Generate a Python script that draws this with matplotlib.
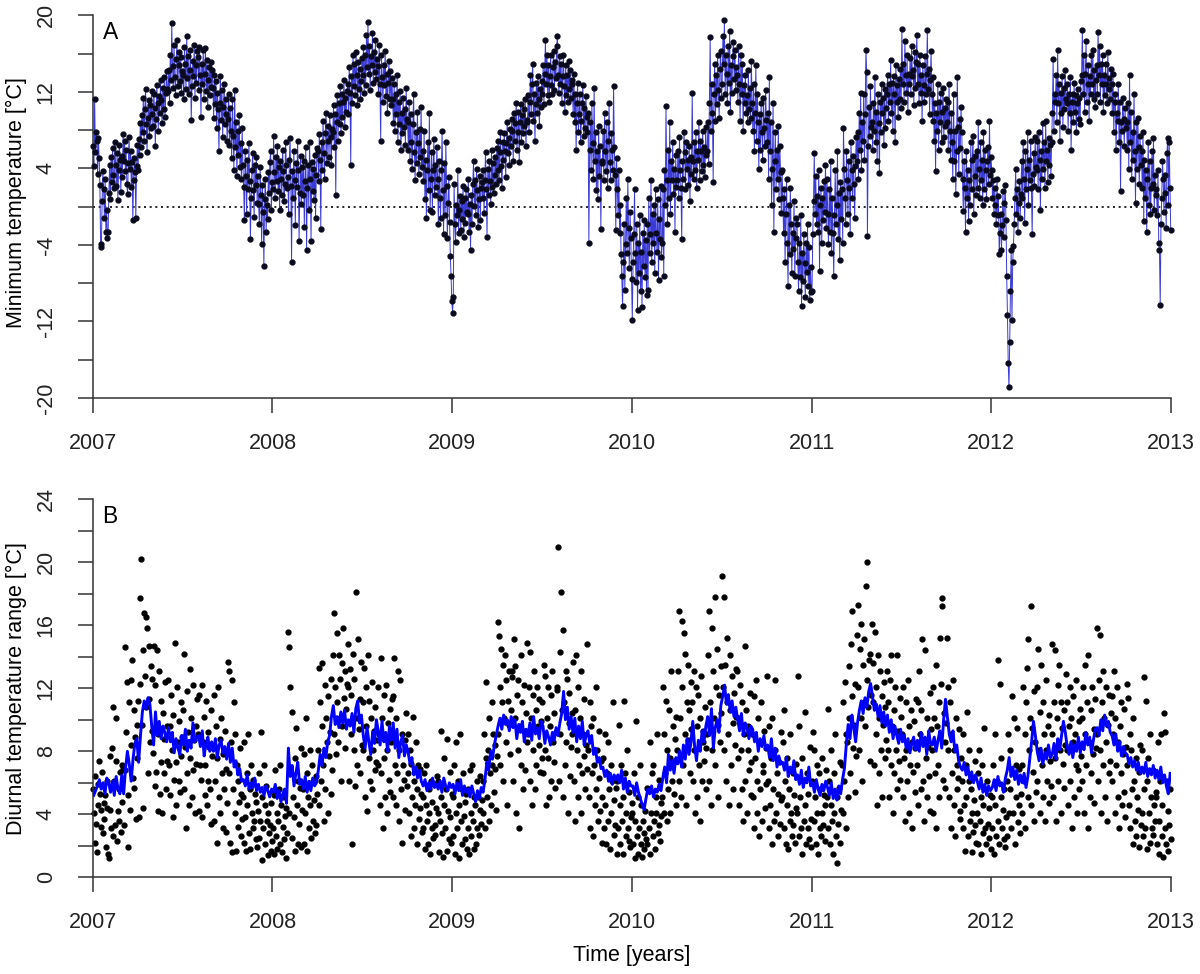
"""Daily minimum temperature and diurnal temperature range, 2007-2012."""
import numpy as np
import matplotlib.pyplot as plt

plt.rcParams['font.family'] = ['Liberation Sans', 'DejaVu Sans']

years = [2007, 2008, 2009, 2010, 2011, 2012]

# minimum temperature [°C], one line per month
tmin_2007 = """
6.3 4.2 11.3 5.7 7.8 6.9 3.4 7.2 5.1 2.3 -3.9 -4.2 0.6 3.7 1.8 -1.2 2.9 -2.6 -0.4 -3.3
-2.7 1.4 4.3 0.8 5.2 2.6 6.1 3.3 1.9 6.8 4.4 2.2 5.6 0.7 3.8 6.4 4.9 1.5 5.3 3.1
7.6 4.8 6.9 3.7 5.9 2.4 1.3 4.6 7.3 3.9 5.8 2.1 4.7 -1.4 2.8 5.1 3.6 -1.2 4.2 6.4
3.8 7.1 5.4 8.7 6.2 9.6 7.8 11.4 6.9 10.2 12.3 8.6 5.7 9.3 11.1 7.4 10.6 8.2 12.1 9.7
8.4 11.8 10.3 6.3 9.2 12.7 10.8 7.9 11.6 9.8 13.2 11.1 8.7 12.4 10.2 13.6 9.4 11.9 14.2 12.3
12.1 14.3 10.8 15.8 13.2 19.2 14.7 12.4 16.9 13.6 11.7 15.4 17.4 12.6 14.8 16.2 13.1 15.6 11.9 14.2
13.8 11.2 16.7 14.9 12.3 17.8 13.4 15.7 11.8 14.3 16.4 9.1 12.6 15.2 13.7 16.9 11.4 14.8 12.9 16.3
15.6 12.2 16.7 13.8 9.4 14.9 12.8 16.4 11.3 13.9 16.6 12.1 15.3 10.4 13.2 14.6 11.7 15.1 12.5 14.3
12.4 9.3 13.8 10.7 13.1 8.2 11.9 10.2 5.8 10.8 13.7 9.1 12.2 7.3 10.4 12.8 8.6 11.3 9.7 6.9
9.2 11.8 6.4 10.3 7.9 5.1 11.2 7.4 3.8 12.2 6.2 8.8 3.2 7.9 5.4 9.6 4.1 6.7 2.9 8.2
4.3 2.1 -1.4 5.8 3.2 -0.8 4.9 1.8 6.7 2.7 -3.4 0.9 3.8 5.6 1.7 -1.1 4.4 2.3 5.2 0.4
3.2 0.3 -1.8 4.1 1.2 -3.9 2.3 -0.6 -6.2 0.8 2.9 -2.7 0.2 -1.3 3.6 1.4 4.7 5.8 -0.4 2.6
"""
tmin_2008 = """
1.8 7.4 3.6 0.9 5.2 2.7 6.3 1.6 4.1 -0.3 4.8 2.9 1.2 5.9 3.7 0.6 2.4 6.8 4.3 1.9
3.1 -0.8 4.9 7.2 2.2 -5.8 3.7 0.9 5.8 2.8 -1.9 4.6 2.1 6.9 3.8 -3.6 1.4 5.3 0.3 4.1
1.2 4.8 -2.1 2.7 6.2 -4.5 1.9 4.3 -0.4 6.8 2.9 -3.6 4.7 1.6 3.9 0.7 5.4 -1.2 3.3 6.1
5.8 2.7 7.6 4.9 -2.3 6.8 3.8 8.9 5.6 2.9 7.7 9.8 4.6 6.9 8.4 5.2 9.6 7.3 4.4 8.1
7.8 10.6 6.2 9.7 1.2 8.8 11.7 6.9 10.8 8.6 12.6 7.7 11.8 9.4 10.9 13.2 8.3 11.4 9.9 12.1
12.8 9.7 14.6 11.9 4.4 13.7 10.8 15.8 12.6 14.9 11.7 16.2 13.8 10.6 15.1 12.3 14.4 11.2 13.1 15.5
13.8 16.7 11.9 15.8 12.7 17.9 14.6 19.3 13.9 16.8 12.2 15.7 14.8 18.1 12.9 16.2 14.1 17.4 13.3 15.4
14.7 11.8 16.9 12.8 6.9 15.8 13.6 10.9 14.8 12.7 16.3 11.6 13.9 9.8 12.9 15.2 11.3 14.2 10.6 13.4
11.2 8.7 12.8 7.9 11.8 9.7 13.8 6.8 10.9 8.6 12.1 5.9 9.8 7.7 11.4 8.3 10.2 6.4 12.4 9.2
8.8 5.9 10.9 4.8 9.7 6.8 3.9 8.6 11.8 5.7 2.8 7.8 4.6 9.9 6.7 3.4 8.1 5.2 10.4 4.1
5.8 2.7 7.9 0.8 4.9 -1.2 3.8 6.8 1.7 9.8 -0.3 2.9 5.7 -0.6 3.8 7.1 1.2 4.4 2.1 6.2
2.9 -1.8 4.8 0.9 -1.2 3.8 7.9 1.7 -2.9 4.6 -0.9 6.8 2.2 -3.3 0.4 3.1 -1.6 -5.2 -7.3 -9.9
"""
tmin_2009 = """
-11.1 -9.4 2.4 -1.8 -3.7 0.2 -0.9 3.8 -2.8 -0.4 1.1 -2.4 0.6 -1.3 2.2 -3.2 0.9 -1.7 1.8 -0.6
-0.8 2.9 -2.7 0.3 -4.5 1.2 -1.8 2.4 4.8 0.1 2.8 -0.9 3.9 1.7 -2.1 0.8 3.2 -1.4 1.9 2.6
0.9 3.8 -0.7 2.8 5.7 1.8 -3.2 3.9 1.2 4.8 2.7 0.3 5.9 2.1 4.6 1.4 3.3 5.2 2.4 6.1
3.8 6.9 2.8 5.7 7.8 4.2 1.9 6.8 4.9 7.7 5.8 3.1 6.6 8.8 5.6 7.2 4.4 8.1 6.3 9.2
7.9 4.8 9.8 6.9 8.7 10.8 5.9 7.8 9.9 4.7 8.8 10.7 6.8 9.6 7.7 10.2 8.4 11.2 6.3 9.1
8.8 11.7 7.8 10.9 13.8 9.7 12.8 14.9 8.9 11.8 6.9 10.7 12.9 9.8 13.7 11.2 8.4 12.3 10.4 13.1
11.8 14.8 10.7 13.9 17.4 12.8 15.9 11.7 14.8 10.9 13.7 15.8 12.7 11.8 14.6 16.3 12.2 15.1 13.4 16.8
17.8 13.8 11.9 15.7 12.8 14.9 10.8 13.7 15.8 12.6 9.9 14.8 11.7 13.8 10.9 15.2 12.3 14.3 11.4 13.2
12.8 9.7 13.9 8.8 11.8 5.9 10.8 12.9 7.8 9.7 11.8 6.8 8.9 10.8 12.7 7.4 10.3 8.2 11.6 9.4
7.8 9.8 -3.8 5.9 8.8 3.8 10.8 6.7 2.9 12.4 4.8 7.8 1.7 5.8 0.8 8.4 3.2 6.3 -2.3 4.6
4.8 7.9 2.8 9.8 5.8 3.7 8.8 1.9 6.9 10.8 4.7 2.8 7.7 5.9 3.8 12.6 6.2 3.3 -2.4 5.1
1.8 -0.9 3.8 -2.8 0.2 -4.9 -7.3 -10.4 -5.8 -1.8 -8.7 -3.9 0.9 -4.8 2.9 -2.2 -6.4 -0.6 -3.3 -7.6
"""
tmin_2010 = """
-11.8 -5.8 -2.9 1.8 -4.8 -7.9 -1.8 -10.8 -3.8 -6.9 -0.9 -8.8 -4.7 -10.5 -2.8 -6.2 -1.4 -7.4 -3.5 -9.2
-1.8 -8.7 0.9 -4.8 -2.9 2.8 -5.8 -0.8 -3.8 0.2 -6.9 1.8 -2.8 -4.7 0.8 -7.7 -1.3 -3.4 2.2 -5.3
-3.8 1.8 -7.3 3.8 0.2 10.5 2.8 -1.8 5.9 0.9 8.8 -0.8 4.8 2.8 6.8 1.3 3.9 -2.6 5.4 2.1
2.8 5.8 0.9 7.3 3.8 1.9 -3.4 4.8 2.9 7.8 5.7 1.8 6.8 3.9 4.9 2.3 6.3 0.6 5.2 3.4
11.9 4.8 2.9 6.8 3.8 7.8 1.9 5.8 4.9 8.8 2.8 6.9 5.8 3.7 7.9 4.3 6.2 3.1 8.3 5.4
5.8 8.8 4.5 10.8 17.7 7.9 12.8 9.8 2.6 11.8 14.9 8.9 13.8 10.7 15.8 12.2 9.3 14.4 16.3 11.4
12.8 17.8 14.9 19.5 11.8 15.8 13.9 10.8 16.8 12.9 18.4 9.9 14.8 11.9 15.7 17.2 13.3 16.4 12.2 14.6
13.8 10.9 16.8 12.8 8.9 15.8 11.8 14.9 7.9 12.7 10.8 13.8 9.8 11.7 8.8 14.3 10.2 12.4 9.3 15.2
10.8 7.9 12.8 5.8 9.8 14.8 6.9 11.8 8.8 3.9 9.7 5.9 10.8 7.8 4.9 11.4 8.2 6.3 12.2 9.1
6.8 9.8 2.9 13.6 5.8 8.8 0.2 3.9 10.8 -2.7 4.8 7.8 1.8 5.9 2.9 8.4 0.8 6.3 3.6 -0.7
3.8 0.9 -2.8 1.8 -5.8 -0.8 2.9 -3.8 -8.3 0.2 -4.9 1.9 -1.8 -6.9 -2.8 -4.4 0.6 -7.2 -3.3 -1.2
-1.8 -5.8 -8.8 -3.8 -7.4 -0.9 -10.4 -4.8 -7.8 -2.9 -5.9 -9.4 -3.8 -6.8 -1.8 -8.3 -4.2 -9.8 -6.3 -8.9
"""
tmin_2011 = """
-8.8 -2.9 0.6 5.6 -0.8 3.2 -1.8 1.1 -2.7 3.8 -6.7 0.2 1.9 -3.8 0.9 -1.4 2.7 -0.6 4.4 -2.2
2.9 -0.8 -3.9 1.8 -2.7 4.8 -4.8 0.9 -2.8 -7.2 -0.9 3.8 -1.8 0.2 5.8 -3.4 1.4 -5.6 2.6 -1.3
1.8 -3.8 8.2 3.9 0.9 -1.8 5.8 2.8 -0.8 4.8 1.9 -2.9 6.8 3.8 0.9 5.3 2.4 -1.2 4.2 7.3
4.8 7.8 2.9 9.8 5.9 11.9 3.8 8.8 6.9 11.8 4.9 9.7 16.4 14.1 -3.1 6.3 10.4 7.4 12.6 8.3
8.8 5.9 10.8 7.9 13.6 6.8 9.9 4.8 11.8 8.7 3.5 10.9 7.8 12.8 9.8 11.4 6.4 12.3 8.2 10.3
11.8 13.8 8.9 12.8 10.9 15.3 9.8 12.9 7.9 13.7 11.8 6.8 14.8 10.9 12.7 9.4 13.3 11.2 14.4 10.3
18.6 12.8 14.9 10.9 17.3 13.8 11.9 15.8 9.9 13.9 12.8 15.5 11.8 16.8 13.7 14.3 10.6 16.2 12.4 15.1
17.9 12.8 14.9 10.8 15.8 11.9 13.8 8.9 14.8 12.7 10.9 15.7 11.8 13.9 18.5 12.3 14.4 9.7 13.2 16.3
11.8 8.9 13.5 6.9 10.8 3.7 9.8 7.9 12.8 5.9 10.9 8.8 11.9 6.8 9.9 12.4 7.3 10.3 8.4 11.2
8.8 10.9 5.9 12.8 7.9 4.9 9.8 6.8 2.9 11.8 4.8 7.9 1.3 5.8 13.6 8.3 3.4 9.2 6.1 10.4
7.8 2.9 -0.5 4.8 1.9 -2.6 5.8 0.9 3.8 -1.5 2.8 0.2 6.8 1.8 4.9 7.4 -0.8 3.2 5.3 1.2
5.8 1.9 8.8 3.9 0.9 6.8 2.8 4.9 0.2 7.8 1.8 5.9 3.8 0.8 4.8 6.2 2.4 8.9 3.3 5.2
"""
tmin_2012 = """
3.8 0.9 2.8 -0.8 1.9 0.2 -1.8 2.9 -0.9 1.1 -4.9 -2.8 -0.8 -4.5 -1.9 1.6 -3.2 0.4 2.3 -1.4
-7.3 -11.3 -16.3 -18.9 -14.2 -8.8 -4.5 -11.8 -5.8 -4.1 -1.8 0.9 3.9 -0.8 1.8 -2.6 0.4 2.7 -1.2 1.3
4.8 0.9 6.8 2.9 -1.7 5.8 1.8 3.9 7.8 0.2 4.9 2.8 6.9 1.9 -2.9 3.4 5.6 2.2 7.3 4.1
3.8 6.9 1.8 7.8 4.9 -0.3 5.8 2.9 8.7 3.9 6.8 1.9 8.9 4.8 5.9 2.6 7.2 4.3 6.4 3.2
6.8 9.8 15.4 7.9 11.8 10.9 13.8 8.8 16.4 10.8 12.8 6.9 11.9 9.8 13.7 8.3 12.4 10.2 14.3 11.3
10.8 12.8 7.9 11.8 9.8 13.6 5.9 10.9 11.8 8.8 12.9 9.9 11.7 7.8 10.8 12.3 9.2 11.4 8.6 13.1
13.8 18.5 11.8 15.8 9.9 13.9 17.3 10.9 12.8 14.8 8.9 13.7 11.8 15.9 12.8 16.4 11.2 14.3 10.4 13.2
14.8 11.8 18.3 13.8 16.8 10.9 14.9 12.8 15.8 9.9 13.8 11.7 14.9 12.8 10.8 16.2 12.3 13.4 11.2 14.4
12.8 9.8 13.9 7.8 10.9 11.8 5.9 9.8 8.9 12.8 6.8 10.9 1.6 8.8 7.9 11.4 9.2 6.3 10.3 8.2
8.8 5.9 10.8 3.9 13.8 6.8 9.9 2.9 7.8 4.9 11.8 5.8 0.4 8.8 3.9 9.3 6.2 2.4 7.4 4.3
5.8 1.9 7.8 -1.5 4.9 0.9 3.8 -2.7 2.9 6.8 0.2 4.8 -0.8 1.9 5.8 2.4 7.2 -0.4 3.3 1.2
1.8 -0.9 3.8 -3.8 -4.5 -10.3 -1.8 0.9 4.8 2.9 -0.6 3.3 1.4 -2.2 5.6 7.2 0.2 6.8 1.9 -2.4
"""

# diurnal temperature range [°C], one line per month
dtr_2007 = """
5.6 4.1 6.4 2.2 3.4 1.6 4.6 5.9 7.4 5.3 3.2 4.3 6.7 2.8 4.7 3.7 5.2 1.9 6.1 4.4
1.5 1.2 4.3 7.7 3.1 8.2 10.8 2.6 6.1 3.3 7.4 10.1 2.3 4.2 5.6 3.6 6.7 2.9 4.8 7.1
6.9 3.3 6.8 14.6 9.2 12.4 1.9 5.2 11.1 4.3 12.5 8.4 13.8 6.3 10.6 5.7 8.9 3.7 7.6 9.7
11.2 3.8 17.7 12.3 20.2 9.7 14.4 4.4 16.8 12.8 16.5 10.8 15.8 6.6 11.3 14.7 8.6 13.4 9.3 12.6
7.9 14.7 5.8 12.2 6.7 14.4 9.1 4.2 13.1 5.3 11.2 7.3 4.1 10.4 6.6 8.8 12.4 5.6 9.6 7.4
12.5 7.1 9.6 5.2 11.6 8.1 3.8 10.3 6.2 14.9 7.3 4.6 12.1 8.6 6.1 9.9 5.4 11.1 7.7 8.9
10.6 5.6 14.2 8.3 3.1 11.8 6.6 9.2 4.6 13.2 7.6 10.1 5.1 12.2 6.8 8.7 4.1 9.6 7.2 11.3
9.1 4.2 11.6 7.1 6.2 12.2 3.8 8.6 10.2 5.2 7.1 11.2 4.6 9.2 6.1 8.3 5.6 10.6 3.4 7.7
8.2 3.6 11.6 6.1 9.6 2.2 7.6 12.1 5.1 8.8 4.1 10.1 6.6 3.1 7.8 5.6 9.3 2.9 6.9 4.7
13.7 6.6 13.1 2.2 8.6 12.5 1.6 5.6 11.1 4.1 9.1 1.7 7.1 3.2 6.1 4.8 8.2 2.6 5.3 3.7
5.1 2.2 8.6 3.8 1.7 6.6 4.6 9.1 2.8 5.6 1.8 7.1 4.1 3.1 6.2 3.6 5.3 2.4 4.8 1.9
4.2 6.6 2.5 3.6 9.2 5.1 1.1 3.1 7.1 4.6 2.1 5.8 3.6 1.4 4.1 2.8 3.3 1.7 4.7 2.3
"""
dtr_2008 = """
3.1 5.2 1.5 6.8 2.6 4.1 1.8 3.6 5.6 2.1 7.1 4.6 1.6 3.2 5.1 2.4 3.9 1.2 4.4 2.8
15.6 14.6 4.1 12.1 6.6 2.5 10.5 5.1 3.8 7.6 1.7 9.5 4.6 6.1 2.1 3.4 5.7 1.9 8.2 4.3
5.6 2.1 7.8 4.1 10.1 6.6 1.7 5.1 3.1 8.1 4.6 2.5 7.1 6.1 3.6 4.9 2.8 6.4 3.3 5.3
8.1 13.3 4.6 11.1 6.1 9.6 13.6 7.1 3.6 12.2 5.6 10.1 8.6 4.1 11.5 7.7 9.2 5.3 12.6 6.8
14.1 9.1 16.8 12.1 7.8 15.5 11.1 8.6 14.1 10.1 12.6 6.1 13.6 9.6 15.8 11.4 13.1 8.2 10.7 12.3
12.1 14.8 6.1 13.2 9.1 11.6 2.1 14.2 8.1 12.6 5.8 18.1 10.1 7.1 15.1 9.4 11.3 6.6 13.7 8.4
11.1 8.1 13.3 5.1 12.1 9.6 4.2 14.1 7.6 11.2 6.1 10.1 5.6 12.4 8.1 9.3 6.8 10.8 7.3 8.7
7.1 12.1 9.1 4.6 13.9 6.6 10.1 3.1 11.6 7.6 5.1 12.2 8.1 4.1 9.8 6.2 10.7 5.4 8.6 11.3
11.5 5.1 13.9 7.1 4.6 10.1 6.6 13.1 3.6 8.1 12.5 5.6 9.1 2.2 7.1 6.2 8.7 4.3 10.4 5.8
6.6 9.1 4.1 8.1 2.6 7.2 5.1 10.2 3.1 6.1 4.6 8.6 2.1 5.6 7.1 3.7 6.9 4.4 5.3 2.9
5.1 3.1 6.6 1.8 4.6 7.1 3.6 2.1 5.6 4.1 1.5 6.1 3.1 4.8 2.5 5.9 3.3 2.7 4.4 6.4
4.1 6.1 1.6 3.6 9.3 5.1 2.8 1.3 4.6 7.6 3.1 5.6 1.7 8.8 4.2 2.4 3.8 6.7 2.2 5.3
"""
dtr_2009 = """
5.1 2.6 7.1 1.5 4.1 8.6 3.1 6.1 1.2 4.6 9.1 3.6 5.6 2.1 6.6 3.9 4.8 2.4 5.3 1.8
3.1 5.6 1.5 6.8 4.1 2.6 7.1 3.6 1.8 5.1 4.6 2.1 6.1 3.1 5.1 2.7 4.3 6.4 3.4 4.9
6.1 4.1 9.1 3.1 7.6 12.4 5.1 8.1 3.6 10.1 6.6 4.6 11.1 7.1 9.1 5.4 8.4 6.9 4.3 7.7
16.2 9.1 15.3 12.1 7.1 14.5 11.1 6.1 13.5 10.1 14.1 8.6 12.5 4.6 11.2 9.7 13.1 7.8 10.6 12.7
13.1 6.1 15.1 10.1 13.4 4.1 11.6 8.1 12.5 3.1 9.6 14.1 7.1 11.1 5.6 9.3 12.2 6.8 10.4 8.6
14.9 9.1 12.1 6.1 14.3 10.1 4.6 11.6 8.1 13.1 5.6 10.6 7.1 12.1 9.6 8.4 11.3 6.7 9.9 7.6
11.1 6.6 13.5 8.1 12.8 4.6 10.1 7.6 12.1 5.1 9.6 11.6 6.1 13.1 8.6 7.3 10.4 5.7 9.2 11.9
12.1 21.0 6.1 14.3 9.1 18.1 10.6 5.1 15.7 11.1 7.1 13.1 8.6 12.6 4.1 9.8 11.7 6.4 8.3 10.4
9.1 13.7 6.1 10.6 3.6 14.1 8.1 5.1 12.1 7.1 10.1 4.1 13.1 6.6 9.1 7.7 11.3 5.6 8.4 6.9
14.8 8.1 5.1 11.1 3.1 9.6 6.6 2.6 10.1 7.1 4.6 12.1 5.6 8.1 3.6 6.3 9.3 4.2 7.4 2.2
5.1 7.6 3.1 9.1 4.6 2.1 6.6 8.6 3.6 5.6 1.8 7.1 4.1 6.1 11.1 2.7 4.9 3.3 5.7 1.5
6.1 3.1 9.7 4.6 2.1 7.1 3.6 1.5 5.1 11.2 6.6 2.6 4.1 8.1 3.1 2.3 5.4 1.9 3.8 4.7
"""
dtr_2010 = """
4.1 2.1 6.6 1.2 3.6 9.9 2.6 5.1 1.5 3.1 7.1 2.1 4.6 1.3 3.6 2.8 1.8 4.2 2.4 5.7
2.1 5.6 3.1 8.6 1.5 4.1 6.6 2.6 7.1 3.6 1.8 5.1 4.1 9.1 2.8 3.3 6.2 2.3 4.7 3.9
5.1 12.1 4.1 9.1 6.6 11.2 3.6 8.1 5.6 10.6 4.1 7.6 13.1 6.1 9.6 7.3 5.3 8.8 4.6 10.2
8.1 13.1 6.1 16.9 10.1 5.1 16.3 12.1 7.1 15.5 9.1 14.2 4.6 11.1 13.5 8.7 10.6 6.6 12.4 9.4
11.1 6.1 13.1 8.1 4.1 12.1 9.6 5.1 11.6 7.1 3.6 10.1 12.8 6.1 8.6 9.3 7.4 10.8 5.6 8.2
9.1 14.1 6.1 16.9 11.1 4.6 15.8 8.1 13.1 10.1 17.8 7.1 12.1 14.5 5.1 9.7 11.6 8.6 13.4 10.4
19.1 12.1 17.8 8.1 13.5 6.1 11.1 15.2 9.1 4.6 14.1 10.6 7.1 12.8 5.6 9.8 11.7 8.4 13.2 10.2
13.1 7.6 10.1 4.6 12.2 8.1 5.6 11.1 3.6 9.1 14.7 6.1 10.6 4.1 8.1 9.6 6.8 11.7 7.3 5.2
9.1 5.1 11.5 3.1 7.6 12.5 6.1 4.1 10.1 2.6 8.6 5.6 11.1 3.6 7.1 6.7 9.3 4.4 8.2 5.9
12.8 6.1 3.1 9.6 4.6 7.6 2.1 10.1 5.6 3.6 12.5 8.1 4.1 6.6 2.6 5.3 7.3 3.4 9.2 4.9
5.1 8.6 3.1 10.6 6.1 2.1 4.6 7.6 1.8 5.6 3.6 9.1 4.1 2.6 6.6 3.3 5.2 2.2 7.2 4.4
4.1 12.8 2.6 9.6 5.1 3.1 7.6 1.5 6.1 3.6 10.5 4.6 2.1 6.6 3.1 5.3 2.4 8.3 3.7 1.9
"""
dtr_2011 = """
6.1 9.2 3.6 8.1 5.1 2.1 7.1 4.1 1.5 6.6 3.1 5.6 2.6 7.6 4.1 3.3 5.2 2.3 4.6 6.8
5.1 3.1 10.7 6.1 2.1 4.6 8.1 3.6 1.5 6.6 4.1 9.1 2.6 0.9 5.1 3.4 5.7 2.2 7.3 4.3
7.1 4.1 11.1 6.1 12.4 9.1 3.1 8.6 5.1 13.4 10.1 6.6 14.8 11.5 16.9 8.2 9.7 5.4 12.3 7.7
15.4 12.1 17.3 8.1 14.5 10.1 16.1 6.1 13.5 11.1 15.1 9.6 18.5 20.0 12.5 10.8 13.8 7.4 14.2 11.6
16.1 11.1 13.6 7.1 15.6 9.1 12.1 4.6 14.1 10.1 6.6 13.1 8.1 11.5 5.1 9.7 12.4 7.6 10.8 8.7
13.1 8.1 11.1 5.1 12.5 7.1 14.1 9.6 4.1 10.6 6.6 12.1 8.1 5.6 14.1 9.3 7.4 11.4 6.2 10.2
9.1 5.1 12.1 7.6 3.6 11.1 8.1 6.1 12.5 4.1 9.6 7.1 10.6 3.1 8.6 6.7 9.9 5.4 8.2 11.3
7.1 11.1 4.6 13.1 9.1 5.6 10.6 15.1 6.1 8.6 3.6 14.4 7.6 10.1 5.1 8.3 6.4 11.7 4.2 9.4
8.1 12.1 4.1 10.1 6.6 13.5 3.1 9.6 7.1 11.1 5.1 15.2 12.3 17.2 17.7 6.2 10.4 8.6 5.7 9.8
15.2 12.1 8.1 5.1 11.1 3.1 9.1 6.6 12.5 4.6 8.1 2.6 10.1 5.6 7.1 6.3 9.4 3.7 4.2 7.6
6.1 3.1 9.1 4.6 1.7 7.1 5.1 10.5 2.6 6.1 8.1 3.6 5.6 1.6 4.1 2.9 4.9 7.4 3.3 2.2
4.1 6.6 2.1 8.1 3.6 5.1 1.5 7.1 2.8 4.6 9.5 3.1 5.6 2.1 6.1 3.4 4.4 2.5 5.2 1.8
"""
dtr_2012 = """
5.1 3.1 7.1 1.5 4.6 9.1 2.6 6.1 3.6 13.8 2.1 12.3 5.1 7.6 3.1 4.3 2.4 5.6 1.9 3.8
6.1 2.6 9.1 4.1 8.1 5.6 3.1 11.5 6.6 4.1 10.1 2.1 7.1 5.1 9.5 3.5 6.9 4.6 2.8 5.3
7.1 4.1 12.1 6.1 9.1 3.1 11.1 13.3 5.1 15.1 8.1 10.1 4.6 17.2 9.5 6.7 11.8 3.6 8.6 5.4
12.1 6.1 14.5 8.1 4.1 10.5 13.5 7.1 5.1 11.1 9.1 3.6 12.5 8.1 6.1 9.6 4.7 10.3 7.4 5.8
9.1 14.8 5.1 11.1 7.6 14.4 3.6 10.1 12.2 6.1 13.5 8.1 4.1 11.1 9.5 7.2 10.6 5.7 8.4 12.9
8.1 11.1 4.6 9.6 12.1 6.1 10.1 3.1 8.6 11.5 5.1 9.1 7.1 12.5 4.1 6.8 9.9 5.6 10.7 7.7
10.1 6.1 12.1 4.1 9.1 13.5 7.1 11.1 3.1 14.1 8.6 5.1 10.6 6.6 12.1 7.8 9.4 4.7 11.3 8.2
9.1 15.8 6.1 12.5 8.1 15.4 4.1 11.1 13.1 7.1 10.1 5.1 12.1 8.6 3.6 9.7 6.6 11.6 7.4 10.4
11.5 6.1 9.1 13.1 4.1 10.1 7.1 12.1 5.1 8.6 3.1 9.6 6.6 11.1 4.6 7.8 5.4 10.7 3.8 8.3
12.3 7.1 11.4 4.6 9.1 3.1 8.1 5.6 2.1 10.1 6.1 3.6 7.6 2.6 5.1 4.3 6.7 1.9 8.4 3.3
4.1 8.1 2.6 12.7 5.6 3.1 11.2 6.1 1.8 7.6 4.1 2.2 9.1 5.1 3.1 6.8 2.7 4.6 3.6 5.4
5.1 2.1 8.6 3.6 1.5 6.1 9.1 2.6 4.6 1.3 10.4 3.1 9.2 2.1 6.1 4.2 1.7 3.3 5.6 2.4
"""

# running mean of the diurnal temperature range, one line per month
dtr_mean_2007 = """
5.2 5.5 5.8 6.2 5.6 6.0 5.3 6.3
6.0 5.4 6.1 5.2 6.4 5.6 5.3 6.5
5.3 6.9 8.0 7.2 6.1 7.5 8.5 8.8
7.3 9.0 10.5 11.2 10.7 11.4 11.0 9.6
8.4 10.5 9.0 9.9 8.8 9.6 9.2 8.6
9.5 8.6 9.2 7.9 8.8 8.2 7.8 9.0
8.4 9.4 8.0 8.7 8.2 9.8 8.6 8.9
9.0 8.3 9.3 7.7 8.5 8.9 8.0 8.6
8.0 8.8 7.6 8.4 8.7 7.9 8.3 7.5
8.5 7.3 8.2 7.0 7.4 6.5 6.9 6.1
6.2 5.8 6.5 5.6 6.0 5.7 6.3 5.5
5.9 5.4 5.7 5.2 5.8 5.5 5.1 5.6
"""
dtr_mean_2008 = """
5.4 5.9 5.0 5.5 4.8 5.3 5.6 4.7
8.2 6.4 7.1 5.8 6.6 7.3 5.9 6.2
5.6 6.4 5.4 6.1 5.5 6.3 5.8 6.0
6.8 7.8 7.1 8.2 7.6 8.6 9.0 10.2
10.9 9.7 10.2 9.5 10.5 9.8 10.6 9.4
10.0 9.6 10.4 9.2 10.7 11.2 9.8 10.3
9.0 8.2 9.5 8.6 7.8 9.2 8.5 10.0
9.3 8.4 9.9 8.6 9.2 8.0 9.6 8.7
9.8 8.2 9.4 7.6 8.6 9.0 7.7 8.4
7.9 7.2 7.6 6.5 7.0 6.3 6.8 6.1
5.8 6.2 5.5 6.0 5.6 6.3 5.7 5.9
5.6 6.1 5.4 6.3 5.8 5.5 6.0 5.7
"""
dtr_mean_2009 = """
5.9 5.3 6.0 5.5 6.2 5.2 5.8 5.4
5.6 5.1 5.8 5.3 4.8 5.5 5.0 5.7
5.4 6.2 7.3 6.8 8.0 7.5 8.4 9.0
9.6 10.1 9.4 10.3 9.7 10.0 9.3 10.2
9.5 10.0 8.8 9.7 9.2 9.9 8.6 9.4
9.0 9.8 8.7 10.2 9.1 9.5 8.8 9.9
9.6 8.5 9.3 8.9 8.4 9.2 8.7 9.5
9.0 9.8 10.4 11.8 10.0 10.8 9.4 10.2
9.2 10.1 8.6 9.6 8.8 9.9 8.4 9.0
9.3 8.5 9.0 7.8 8.2 7.3 7.6 6.9
7.0 6.4 6.8 6.1 6.6 5.9 6.5 6.2
6.5 6.0 6.8 5.6 6.3 5.4 6.1 5.8
"""
dtr_mean_2010 = """
5.8 5.2 6.0 5.4 5.0 4.6 4.3 5.0
5.6 5.3 5.8 5.1 5.6 5.4 5.9 5.5
6.3 7.0 6.0 7.8 6.8 7.4 6.6 7.6
7.2 8.0 7.0 8.4 7.5 8.8 7.8 8.5
9.9 8.3 7.4 8.7 8.0 9.3 8.6 9.6
10.2 9.0 10.7 8.2 9.5 10.0 9.2 10.9
11.5 12.2 11.0 11.6 10.5 11.2 10.2 10.8
10.0 9.3 10.4 9.0 9.8 9.5 8.8 9.6
9.4 8.6 9.2 8.0 8.8 8.3 9.0 8.1
8.4 7.6 8.8 7.4 8.2 7.0 7.7 7.2
7.3 6.8 7.6 6.4 7.0 6.6 7.4 6.2
6.5 5.9 6.8 5.7 6.3 6.0 7.0 5.8
"""
dtr_mean_2011 = """
6.0 5.4 6.2 5.6 5.2 5.9 5.5 6.1
5.7 5.2 6.0 5.0 5.6 4.9 5.8 5.3
6.2 6.9 8.4 9.7 8.8 10.3 9.5 8.6
9.8 10.6 11.2 10.4 11.4 10.8 11.8 12.3
11.5 10.6 11.0 10.2 10.9 9.8 10.5 9.6
10.3 9.2 10.0 8.8 9.6 9.0 8.5 9.4
8.6 9.0 8.2 8.8 7.9 8.5 8.9 8.1
8.7 8.0 9.2 8.3 8.9 7.8 9.3 8.5
8.4 8.9 8.0 8.7 9.3 8.2 10.0 11.3
10.2 9.1 8.6 9.3 8.0 8.4 7.4 7.0
6.8 7.3 6.5 7.0 6.2 6.7 6.0 6.5
6.1 5.6 6.3 5.4 5.9 5.2 5.8 5.5
"""
dtr_mean_2012 = """
5.7 6.2 5.5 6.4 5.8 6.0 5.4 6.3
6.8 7.6 6.4 7.0 6.2 6.8 5.9 6.5
6.0 6.6 5.7 6.4 7.5 8.6 9.9 9.0
8.0 7.4 8.2 7.2 7.9 7.5 8.4 7.6
7.8 8.5 7.5 8.8 8.1 9.0 9.9 9.2
8.3 7.8 8.6 7.6 8.4 8.0 8.9 7.9
8.6 8.1 9.2 8.4 8.9 7.9 8.7 9.4
9.5 9.0 10.0 9.3 10.3 9.6 9.9 9.2
9.0 8.4 9.1 8.0 8.6 7.7 8.3 7.9
7.8 7.2 7.6 7.0 7.4 6.8 7.3 6.6
7.0 6.6 7.3 6.4 6.9 6.5 7.1 6.3
6.8 6.2 7.0 6.0 6.5 5.8 5.3 6.6
"""

tmin_blocks = [tmin_2007, tmin_2008, tmin_2009, tmin_2010, tmin_2011, tmin_2012]
dtr_blocks = [dtr_2007, dtr_2008, dtr_2009, dtr_2010, dtr_2011, dtr_2012]
mean_blocks = [dtr_mean_2007, dtr_mean_2008, dtr_mean_2009,
               dtr_mean_2010, dtr_mean_2011, dtr_mean_2012]


def to_series(blocks):
    """Turn the per-year month lines into decimal-year x and values."""
    xs, ys = [], []
    for year, block in zip(years, blocks):
        lines = [ln for ln in block.strip().splitlines() if ln.strip()]
        for m, line in enumerate(lines):
            vals = [float(v) for v in line.split()]
            n = len(vals)
            for k, v in enumerate(vals):
                xs.append(year + (m + (k + 0.5) / n) / 12.0)
                ys.append(v)
    return np.array(xs), np.array(ys)


x_tmin, y_tmin = to_series(tmin_blocks)
x_dtr, y_dtr = to_series(dtr_blocks)
x_mean, y_mean = to_series(mean_blocks)

AXIS_COLOR = '#333333'
FS = 15.5


def style_axis(ax, ymin, ymax, ystep, ylabels):
    """R-like axes: only left and bottom lines, outward ticks."""
    ax.set_xlim(2007, 2013)
    ax.set_ylim(ymin, ymax)
    for side in ('top', 'right'):
        ax.spines[side].set_visible(False)
    for side in ('left', 'bottom'):
        ax.spines[side].set_color(AXIS_COLOR)
        ax.spines[side].set_linewidth(1.1)
    ax.set_xticks(np.arange(2007, 2014))
    ax.set_xticklabels([str(y) for y in range(2007, 2014)])
    yt = np.arange(ymin, ymax + ystep, ystep)
    ax.set_yticks(yt)
    ax.set_yticklabels([str(int(t)) if int(t) in ylabels else '' for t in yt],
                       rotation=90, va='center')
    ax.tick_params(axis='both', direction='out', length=11, width=1.1,
                   color=AXIS_COLOR, labelsize=FS, labelcolor='#222222')
    ax.tick_params(axis='x', pad=14)
    ax.tick_params(axis='y', pad=15)


fig = plt.figure(figsize=(12, 9.74), dpi=100)
ax1 = fig.add_axes([0.0773, 0.5914, 0.8986, 0.3929])
ax2 = fig.add_axes([0.0773, 0.0993, 0.8986, 0.3881])

# panel A: thin blue line under black dots
ax1.axhline(0, color='black', linestyle=(0, (1.2, 2.2)), linewidth=1.2, zorder=1)
ax1.plot(x_tmin, y_tmin, '-', color='#3a3ad8', linewidth=0.7, clip_on=False, zorder=2)
ax1.plot(x_tmin, y_tmin, 'o', color='#0a0a1e', markersize=3.5, clip_on=False, zorder=3)
style_axis(ax1, -20, 20, 4, {-20, -12, -4, 4, 12, 20})
ax1.text(0.009, 0.985, 'A', transform=ax1.transAxes, fontsize=FS + 1,
         ha='left', va='top')

# panel B
ax2.plot(x_dtr, y_dtr, 'o', color='black', markersize=3.5, clip_on=False, zorder=2)
ax2.plot(x_mean, y_mean, '-', color='#0000ff', linewidth=2.1, zorder=3)
style_axis(ax2, 0, 24, 2, {0, 4, 8, 12, 16, 20, 24})
ax2.text(0.009, 0.985, 'B', transform=ax2.transAxes, fontsize=FS + 1,
         ha='left', va='top')

fig.text(0.0135, 0.7925, 'Minimum temperature [°C]', rotation=90,
         ha='center', va='center', fontsize=FS)
fig.text(0.0135, 0.2933, 'Diurnal temperature range [°C]', rotation=90,
         ha='center', va='center', fontsize=FS)
fig.text(0.5266, 1 - 956 / 974, 'Time [years]', ha='center', va='center',
         fontsize=FS)

fig.savefig('out.png', dpi=100)
